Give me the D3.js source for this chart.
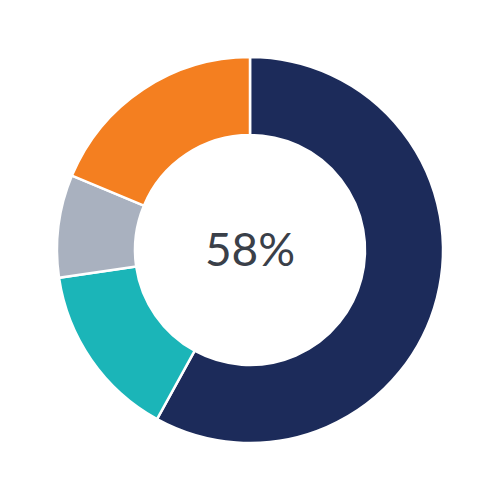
<!DOCTYPE html>
<html><head><meta charset="utf-8">
<script src="https://cdn.jsdelivr.net/npm/d3@7"></script>
<style>html,body{margin:0;padding:0;background:#fff;}</style>
</head><body>
<svg id="chart" width="500" height="500"></svg>
<script>
const categories = ["A", "B", "C", "D"];
const values = [58, 14.7, 8.6, 18.7];
const colors = ["#1c2b5a", "#1bb5b8", "#a9b1bf", "#f47f20"];
const centerLabel = "58%";

const svg = d3.select("#chart");
const g = svg.append("g").attr("transform", "translate(250,250)");
const pie = d3.pie().sort(null).value(d => d.v);
const arc = d3.arc().innerRadius(115).outerRadius(193);
const data = categories.map((c, i) => ({c, v: values[i]}));
const color = d3.scaleOrdinal().domain(categories).range(colors);
g.selectAll("path").data(pie(data)).join("path")
  .attr("d", arc)
  .attr("fill", d => color(d.data.c))
  .attr("stroke", "#fff")
  .attr("stroke-width", 2.5);
g.append("text").attr("text-anchor", "middle").attr("dy", "0.35em")
  .attr("font-family", "Lato, sans-serif").attr("font-size", 46)
  .attr("fill", "#3a4049").text(centerLabel);
</script>
</body></html>
